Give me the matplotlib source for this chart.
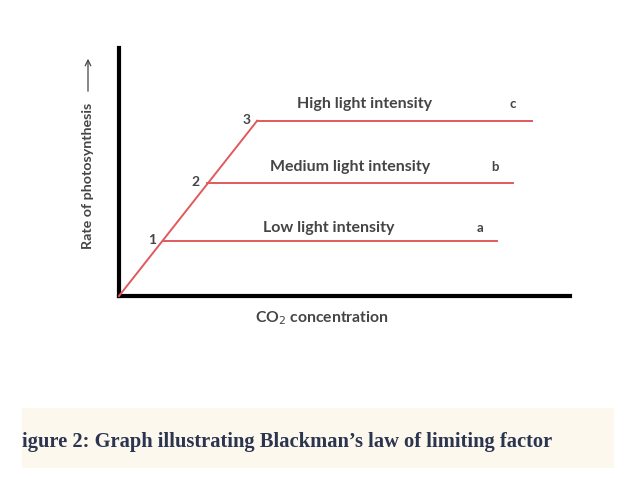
import matplotlib.pyplot as plt
from matplotlib.patches import Rectangle

# saturation points (CO2 level where each curve levels off) and plateau rates
sat_co2 = [1.0, 2.0, 3.14]
sat_rate = [1.0, 2.05, 3.18]
end_co2 = [8.6, 8.95, 9.39]
point_ids = ['1', '2', '3']
curve_names = ['Low light intensity', 'Medium light intensity', 'High light intensity']
curve_tags = ['a', 'b', 'c']
name_x = [4.77, 5.25, 5.57]
tag_x = [8.2, 8.55, 8.95]
name_dy = [0.24, 0.29, 0.31]

W, H = 638, 478
fig = plt.figure(figsize=(W / 100, H / 100), dpi=100)

ax = fig.add_axes([119 / W, (H - 296) / H, 451 / W, 248 / H])
ax.set_xlim(0, 10.25)
ax.set_ylim(0, 4.5)
for s in ['top', 'right']:
    ax.spines[s].set_visible(False)
for s in ['left', 'bottom']:
    ax.spines[s].set_linewidth(3)
    ax.spines[s].set_color('black')
ax.set_xticks([])
ax.set_yticks([])

red = '#e05a5c'
lab_font = dict(family='Lato', fontweight='bold', color='#454545')

# rising part
ax.plot([0, sat_co2[-1]], [0, sat_rate[-1]], color=red, lw=1.4, clip_on=False, zorder=3)
for i in range(3):
    ax.plot([sat_co2[i], end_co2[i]], [sat_rate[i], sat_rate[i]], color=red, lw=1.4, zorder=3)
    ax.text(sat_co2[i] - 0.25, sat_rate[i] + 0.02, point_ids[i], ha='center', va='center',
            fontsize=10, **lab_font)
    ax.text(name_x[i], sat_rate[i] + name_dy[i], curve_names[i], ha='center', va='center',
            fontsize=11.5, **lab_font)
    ax.text(tag_x[i], sat_rate[i] + name_dy[i], curve_tags[i], ha='center', va='center',
            fontsize=9.5, **lab_font)

ax.set_xlabel('CO$_2$ concentration', fontsize=11.3, **lab_font)
ax.xaxis.set_label_coords(0.45, -0.055, transform=ax.transAxes)
ax.xaxis.label.set_va('top')

fig.text(88 / W, 1 - 176 / H, 'Rate of photosynthesis', rotation=90, ha='center', va='center',
         fontsize=10.3, **lab_font)
ax.annotate('', xy=(88 / W, 1 - 56 / H), xytext=(88 / W, 1 - 94 / H), xycoords='figure fraction',
            arrowprops=dict(arrowstyle='->', color='#454545', lw=0.9))

# caption band
fig.patches.append(Rectangle((22 / W, 1 - 468 / H), 592 / W, 60 / H, transform=fig.transFigure,
                             facecolor='#fdf8ee', edgecolor='none', zorder=0))
fig.text(22 / W, 1 - 442 / H, 'igure 2: Graph illustrating Blackman\u2019s law of limiting factor',
         ha='left', va='center', fontsize=14.8, family='Liberation Serif', fontweight='bold',
         color='#2b3550')

fig.savefig('out.png', dpi=100)
